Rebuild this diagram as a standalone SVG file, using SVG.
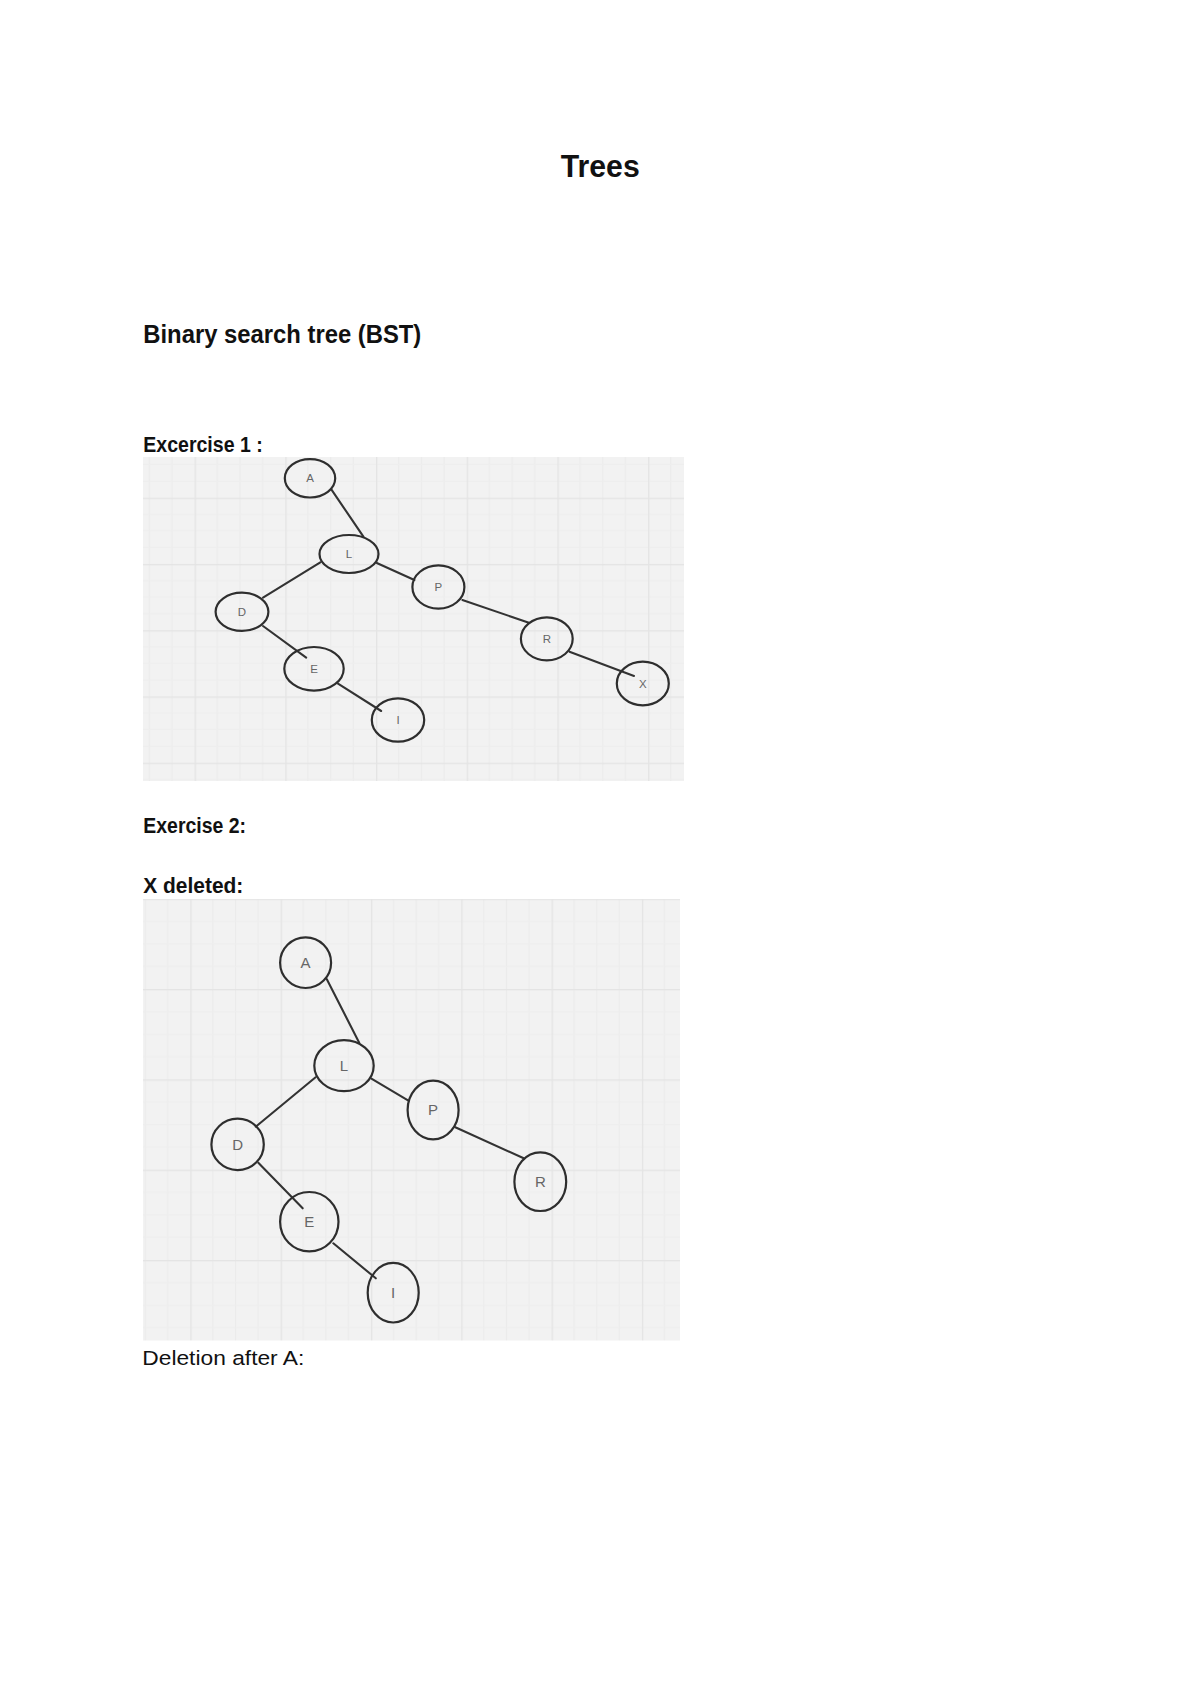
<svg xmlns="http://www.w3.org/2000/svg" width="1200" height="1698" viewBox="0 0 1200 1698">
<style>
.h{font-family:"Liberation Sans",Arial,sans-serif;font-weight:bold;fill:#111}
.r{font-family:"Liberation Sans",Arial,sans-serif;fill:#111}
.n{fill:none;stroke:#2e2e2e;stroke-width:2.2}
.e{stroke:#333;stroke-width:2.1;fill:none;stroke-linecap:round}
.l1{font-family:"Liberation Sans",Arial,sans-serif;font-size:11.5px;fill:#666;text-anchor:middle}
.l2{font-family:"Liberation Sans",Arial,sans-serif;font-size:15px;fill:#666;text-anchor:middle}
</style>
<defs>
<pattern id="g1" patternUnits="userSpaceOnUse" x="194.6" y="497.7" width="90.7" height="66.25">
<rect width="90.7" height="66.25" fill="#f2f2f2"/>
<g fill="#ebebeb">
<rect x="22.2" y="0" width="1" height="66.25"/>
<rect x="44.9" y="0" width="1" height="66.25"/>
<rect x="67.5" y="0" width="1" height="66.25"/>
</g>
<g fill="#eeeeee">
<rect x="0" y="16.1" width="90.7" height="1"/>
<rect x="0" y="32.6" width="90.7" height="1"/>
<rect x="0" y="49.2" width="90.7" height="1"/>
</g>
<g fill="#e4e4e4">
<rect x="0" y="0" width="1.3" height="66.25"/>
<rect x="0" y="0" width="90.7" height="1.3"/>
</g>
</pattern>
<pattern id="g2" patternUnits="userSpaceOnUse" x="190.3" y="898.7" width="90.32" height="90.32">
<rect width="90.32" height="90.32" fill="#f2f2f2"/>
<g fill="#ebebeb">
<rect x="22.1" y="0" width="1" height="90.32"/>
<rect x="44.7" y="0" width="1" height="90.32"/>
<rect x="67.2" y="0" width="1" height="90.32"/>
</g>
<g fill="#eeeeee">
<rect x="0" y="22.1" width="90.32" height="1"/>
<rect x="0" y="44.7" width="90.32" height="1"/>
<rect x="0" y="67.2" width="90.32" height="1"/>
</g>
<g fill="#e4e4e4">
<rect x="0" y="0" width="1.3" height="90.32"/>
<rect x="0" y="0" width="90.32" height="1.3"/>
</g>
</pattern>
</defs>
<rect width="1200" height="1698" fill="#ffffff"/>

<g id="texts">
<text class="h" x="560.7" y="176.7" font-size="32" textLength="79" lengthAdjust="spacingAndGlyphs">Trees</text>
<text class="h" x="143.3" y="343.3" font-size="25" textLength="278" lengthAdjust="spacingAndGlyphs">Binary search tree (BST)</text>
<text class="h" x="143.3" y="451.7" font-size="22.5" textLength="119.4" lengthAdjust="spacingAndGlyphs">Excercise 1 :</text>
<text class="h" x="143.3" y="833.3" font-size="22" textLength="102.7" lengthAdjust="spacingAndGlyphs">Exercise 2:</text>
<text class="h" x="143.3" y="893.3" font-size="22" textLength="100" lengthAdjust="spacingAndGlyphs">X deleted:</text>
<text class="r" x="142.3" y="1365" font-size="20.5" textLength="162" lengthAdjust="spacingAndGlyphs">Deletion after A:</text>
</g>

<g id="diagram1">
<rect x="143" y="457" width="541" height="324" fill="url(#g1)"/>
<g id="connectors1">
<line class="e" x1="331.3" y1="489.3" x2="363.4" y2="536.7"/>
<line class="e" x1="320.3" y1="562.3" x2="263" y2="597.7"/>
<line class="e" x1="376.8" y1="563" x2="414.4" y2="580"/>
<line class="e" x1="462.4" y1="600" x2="528.9" y2="622.7"/>
<line class="e" x1="263" y1="626" x2="306.2" y2="657.7"/>
<line class="e" x1="338" y1="683.7" x2="381.2" y2="711"/>
<line class="e" x1="569.5" y1="651.7" x2="634" y2="676"/>
</g>
<g id="t1-A"><ellipse class="n" cx="310" cy="478.3" rx="25.2" ry="19.2"/><text class="l1" x="310" y="482.4">A</text></g>
<g id="t1-L"><ellipse class="n" cx="349" cy="554" rx="29.5" ry="19"/><text class="l1" x="349" y="558.1">L</text></g>
<g id="t1-P"><ellipse class="n" cx="438.4" cy="587" rx="26" ry="21.6"/><text class="l1" x="438.4" y="591.1">P</text></g>
<g id="t1-D"><ellipse class="n" cx="242" cy="611.8" rx="26.4" ry="19.1"/><text class="l1" x="242" y="615.9">D</text></g>
<g id="t1-R"><ellipse class="n" cx="546.8" cy="638.8" rx="25.9" ry="21.5"/><text class="l1" x="546.8" y="642.9">R</text></g>
<g id="t1-E"><ellipse class="n" cx="314" cy="668.8" rx="29.7" ry="21.8"/><text class="l1" x="314" y="672.9">E</text></g>
<g id="t1-X"><ellipse class="n" cx="642.8" cy="683.5" rx="26" ry="21.8"/><text class="l1" x="642.8" y="687.9">X</text></g>
<g id="t1-I"><ellipse class="n" cx="398" cy="720" rx="26.2" ry="21.7"/><text class="l1" x="398" y="724.1">I</text></g>
</g>

<g id="diagram2">
<rect x="143" y="899" width="537" height="441.5" fill="url(#g2)"/>
<g id="connectors2">
<line class="e" x1="326.7" y1="979" x2="359.2" y2="1042.7"/>
<line class="e" x1="315.6" y1="1077.3" x2="255.7" y2="1126.7"/>
<line class="e" x1="371.4" y1="1078.7" x2="408.4" y2="1100.7"/>
<line class="e" x1="455.3" y1="1127.3" x2="523.7" y2="1158.3"/>
<line class="e" x1="258.3" y1="1162.7" x2="302.7" y2="1208.3"/>
<line class="e" x1="333.3" y1="1243.3" x2="375.8" y2="1278.3"/>
</g>
<g id="t2-A"><ellipse class="n" cx="305.6" cy="962.7" rx="25.5" ry="25.3"/><text class="l2" x="305.6" y="968.1">A</text></g>
<g id="t2-L"><ellipse class="n" cx="344" cy="1065.7" rx="29.7" ry="25.5"/><text class="l2" x="344" y="1071.1">L</text></g>
<g id="t2-P"><ellipse class="n" cx="433.1" cy="1110" rx="25.5" ry="29.3"/><text class="l2" x="433.1" y="1115.4">P</text></g>
<g id="t2-D"><ellipse class="n" cx="237.6" cy="1144.4" rx="26.2" ry="25.7"/><text class="l2" x="237.6" y="1149.8">D</text></g>
<g id="t2-R"><ellipse class="n" cx="540.3" cy="1181.7" rx="25.9" ry="29.3"/><text class="l2" x="540.3" y="1187.1">R</text></g>
<g id="t2-E"><ellipse class="n" cx="309.3" cy="1221.7" rx="29.2" ry="29.7"/><text class="l2" x="309.3" y="1227.1">E</text></g>
<g id="t2-I"><ellipse class="n" cx="393.2" cy="1292.7" rx="25.5" ry="29.8"/><text class="l2" x="393.2" y="1298.1">I</text></g>
</g>
</svg>
